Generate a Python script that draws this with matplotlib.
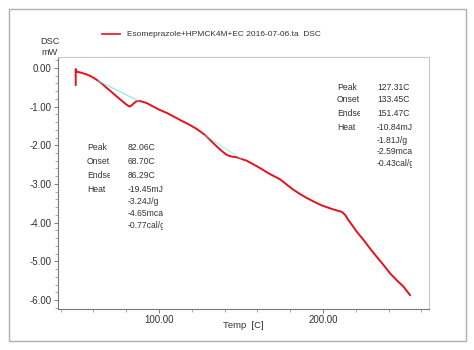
import matplotlib.pyplot as plt
from matplotlib.lines import Line2D
from matplotlib.patches import Rectangle
from matplotlib.ticker import MultipleLocator, FixedLocator
from matplotlib.transforms import Bbox, TransformedBbox

plt.rcParams['font.family'] = ['Liberation Sans', 'DejaVu Sans']

# DSC trace: temperature [C] and heat flow [mW]
temp = [49.2, 49.2, 49.8, 52, 55.9, 59, 62.0, 65, 68.1, 71, 74.2, 77, 79.5,
        81.9, 83, 84.3, 86, 87.4, 89.5, 92.5, 96, 100.6, 105, 110.8, 114.8,
        119, 123, 126, 129, 132, 135.2, 138, 141.3, 144, 147.4, 150, 153.5,
        157, 161.6, 167, 173.8, 178, 181.9, 186, 190, 194.1, 199, 204.3, 208,
        211.4, 213.5, 215.4, 218, 220.5, 224.6, 228.5, 232.7, 237, 240.9,
        245, 249, 253]
heat_flow = [-0.44, -0.03, -0.10, -0.12, -0.17, -0.23, -0.31, -0.40, -0.52,
             -0.62, -0.74, -0.84, -0.93, -1.00, -0.98, -0.93, -0.87, -0.85,
             -0.87, -0.91, -0.99, -1.09, -1.17, -1.30, -1.39, -1.48, -1.58,
             -1.67, -1.77, -1.90, -2.03, -2.14, -2.25, -2.29, -2.31, -2.35,
             -2.40, -2.48, -2.59, -2.73, -2.88, -3.02, -3.15, -3.26, -3.36,
             -3.45, -3.55, -3.63, -3.68, -3.72, -3.80, -3.93, -4.08, -4.23,
             -4.44, -4.66, -4.88, -5.10, -5.31, -5.49, -5.65, -5.87]

# integration baselines for the two peaks
base1_t = [63.0, 87.4]
base1_y = [-0.34, -0.85]
base2_t = [128.0, 150.0]
base2_y = [-1.74, -2.35]

series_label = 'Esomeprazole+HPMCK4M+EC 2016-07-06.ta  DSC'

peak1_names = ['Peak', 'Onset', 'Endset', 'Heat']
peak1_values = ['82.06C', '68.70C', '86.29C', '-19.45mJ', '-3.24J/g',
                '-4.65mcal', '-0.77cal/g']
peak2_names = ['Peak', 'Onset', 'Endset', 'Heat']
peak2_values = ['127.31C', '133.45C', '151.47C', '-10.84mJ', '-1.81J/g',
                '-2.59mcal', '-0.43cal/g']

W, H = 474, 350
fig = plt.figure(figsize=(W / 100, H / 100), dpi=100)
ax = fig.add_axes([58 / W, 1 - 309 / H, (429 - 58) / W, (309 - 57) / H])

txt_col = '#333333'

ax.plot(temp, heat_flow, color='#e8101c', lw=1.4, zorder=3)
ax.plot(base1_t, base1_y, color='#66e0ee', lw=0.8, alpha=0.8, zorder=4)
ax.plot(base2_t, base2_y, color='#66e0ee', lw=0.8, alpha=0.6, zorder=4)

ax.set_xlim(38.4, 264.6)
ax.set_ylim(-6.23, 0.28)
ax.xaxis.set_major_locator(FixedLocator([100, 200]))
ax.xaxis.set_minor_locator(MultipleLocator(20))
ax.yaxis.set_major_locator(MultipleLocator(1))
ax.yaxis.set_minor_locator(MultipleLocator(0.2))
ax.xaxis.set_major_formatter(lambda v, p: f'{v:.2f}')
ax.yaxis.set_major_formatter(lambda v, p: f'{v:.2f}')
ax.tick_params(which='major', length=3, width=0.6, color='#666666',
               labelsize=7, labelcolor=txt_col, pad=1.5)
ax.tick_params(which='minor', length=2, width=0.5, color='#888888')

for side in ['left', 'bottom']:
    ax.spines[side].set_color('#777777')
    ax.spines[side].set_linewidth(0.8)
for side in ['top', 'right']:
    ax.spines[side].set_color('#c8c8c8')
    ax.spines[side].set_linewidth(0.8)

# outer frame around the whole plot
fig.patches.append(Rectangle((9 / W, 1 - 341 / H), (466 - 9) / W, (341 - 9) / H,
                             transform=fig.transFigure, fill=False,
                             edgecolor='#b0b0b0', lw=1.0))

fig.text(40.5 / W, 1 - 41.5 / H, 'DSC', fontsize=6.6, color=txt_col, va='center')
fig.text(41 / W, 1 - 52.5 / H, 'mW', fontsize=6.6, color=txt_col, va='center')
fig.text(243.5 / W, 1 - 326 / H, 'Temp  [C]', fontsize=6.8, color=txt_col,
         ha='center', va='center')

# legend entry
fig.add_artist(Line2D([102 / W, 120 / W], [1 - 34 / H, 1 - 34 / H],
                      transform=fig.transFigure, color='#e8101c', lw=1.2))
fig.text(127 / W, 1 - 34 / H, series_label, fontsize=6, color=txt_col,
         va='center')

BLOCK_FS = 6.2


def clipped_text(x, y, s, x_right):
    t = fig.text(x / W, 1 - y / H, s, fontsize=BLOCK_FS, color=txt_col,
                 va='center')
    box = Bbox([[x / W - 0.01, 0], [x_right / W, 1]])
    t.set_clip_box(TransformedBbox(box, fig.transFigure))
    t.set_clip_on(True)


def peak_block(x_name, x_val, name_rows, val_rows, names, values):
    # the analysis columns have fixed widths, longer entries get cut off
    for yy, s in zip(name_rows, names):
        clipped_text(x_name, yy, s, x_name + 22.5)
    for yy, s in zip(val_rows, values):
        clipped_text(x_val, yy, s, x_val + 34.5)


peak_block(87, 128, [148, 162, 176, 190], [148, 162, 176, 190, 201.5, 213, 226],
           peak1_names, peak1_values)
peak_block(337, 377, [87, 100, 114, 128], [87, 100, 114, 128, 140.5, 152, 163.5],
           peak2_names, peak2_values)

fig.savefig('out.png', dpi=100)
